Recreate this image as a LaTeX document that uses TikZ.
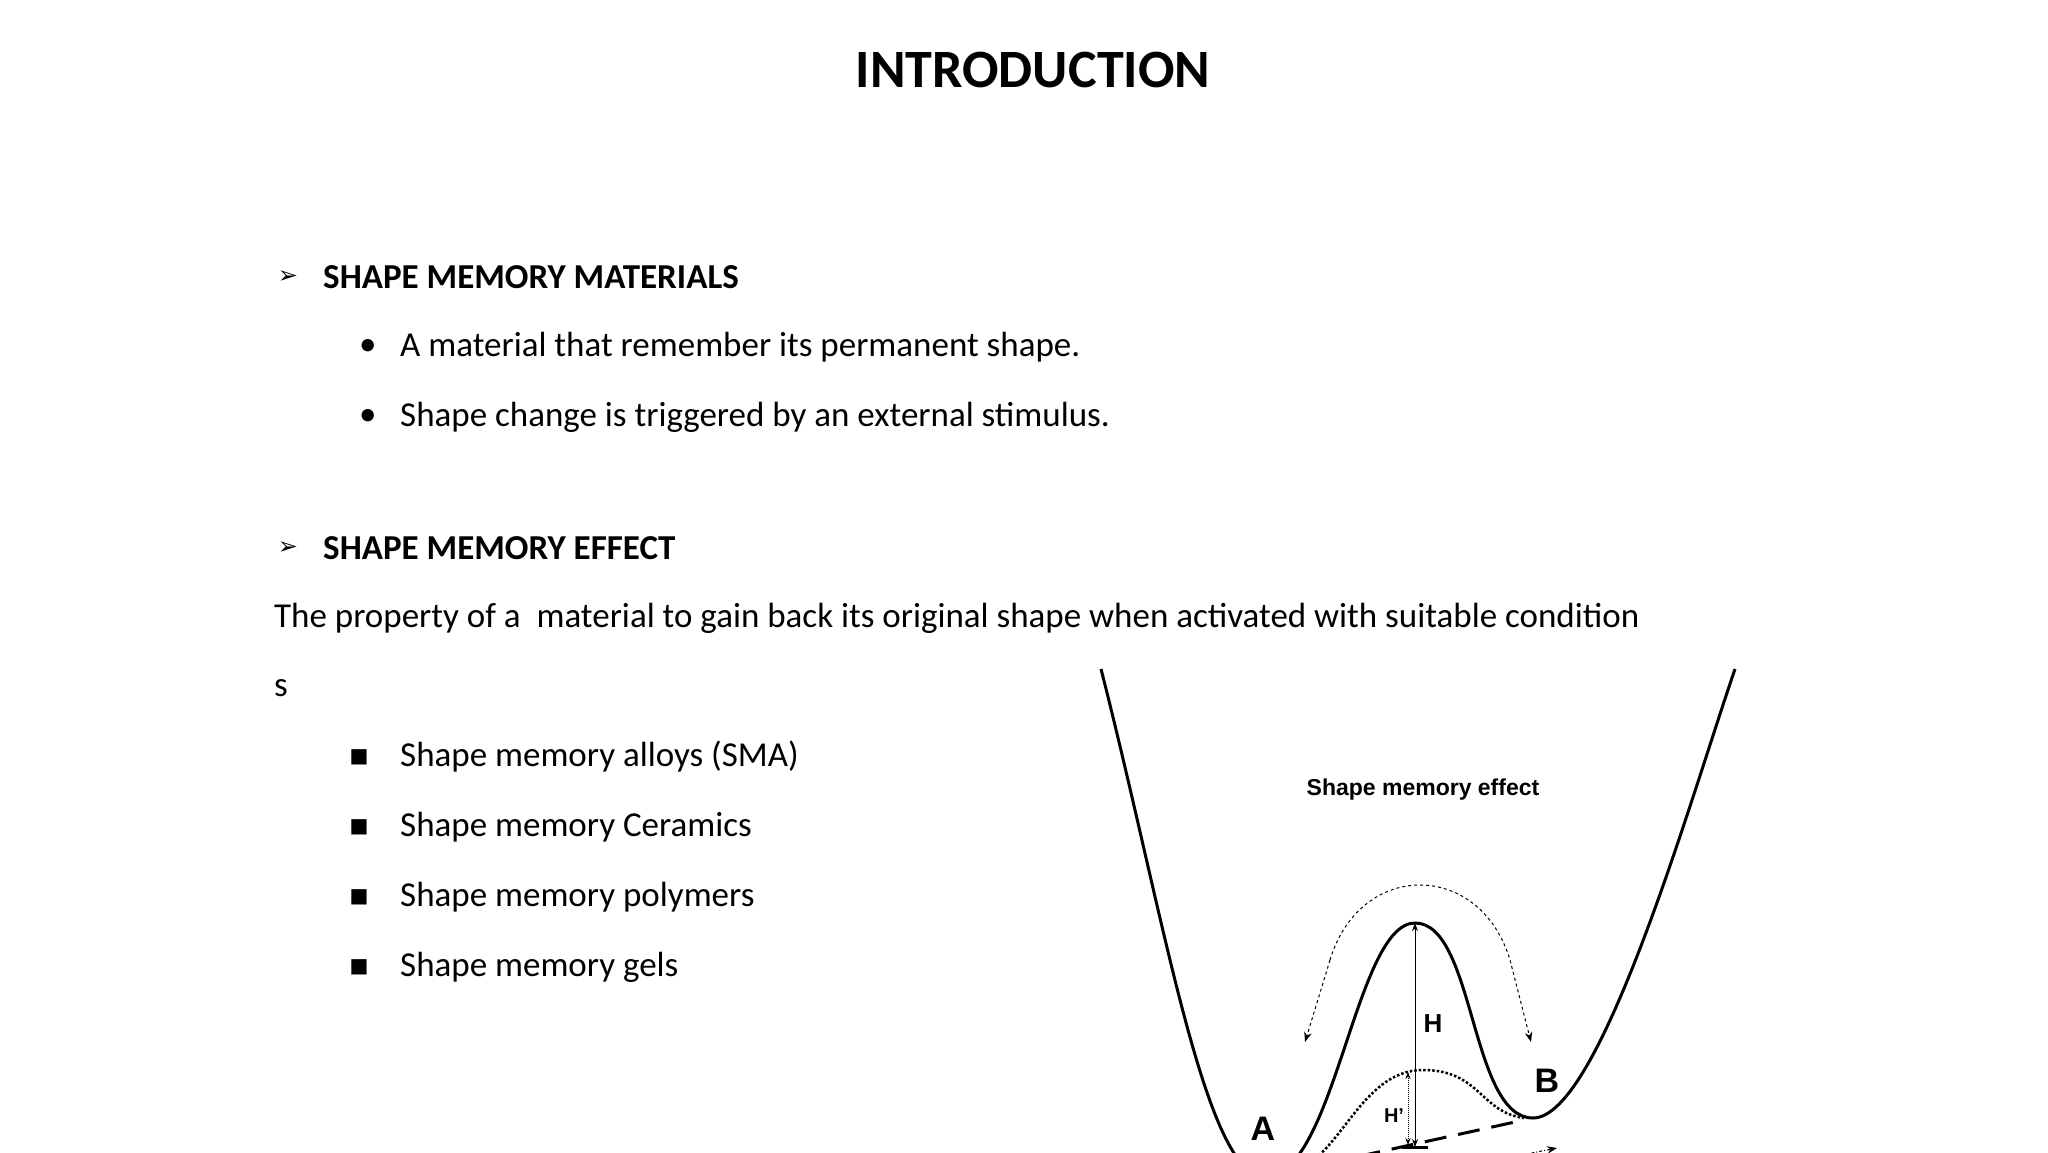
\documentclass[tikz,border=0pt]{standalone}
\usepackage{fontspec}
\setmainfont{Carlito}
\newfontfamily\symfont{DejaVu Sans}
\newfontfamily\arialfont{Liberation Sans}
\usetikzlibrary{arrows.meta}

\begin{document}
\begin{tikzpicture}[x=1pt,y=-1pt]
    \tikzstyle{every node}=[inner sep=0pt]
    \tikzstyle{heading}=[anchor=west, font=\fontsize{35}{40}\selectfont\bfseries]
    \tikzstyle{body}=[anchor=west, font=\fontsize{35}{40}\selectfont]
    \tikzstyle{bulletmark}=[anchor=center, font=\fontsize{24}{28}\symfont]
    \tikzstyle{label}=[font=\fontsize{23}{26}\arialfont\bfseries]
    \tikzstyle{curve}=[line width=3pt]

    \useasboundingbox (0,0) rectangle (2048,1152);

    % Title
    \node[font=\fontsize{54}{60}\selectfont\bfseries] (title) at (1033,70) {INTRODUCTION};

    % Shape memory materials
    \node[bulletmark] (m1) at (288,277) {➢};
    \node[heading] (h1) at (323,277) {SHAPE MEMORY MATERIALS};
    \node[body] (d1) at (359,347) {•};
    \node[body] (t1) at (400,347) {A material that remember its permanent shape.};
    \node[body] (d2) at (359,417) {•};
    \node[body] (t2) at (400,417) {Shape change is triggered by an external stimulus.};

    % Shape memory effect
    \node[bulletmark] (m2) at (288,548) {➢};
    \node[heading] (h2) at (323,548) {SHAPE MEMORY EFFECT};
    \node[body] (p1) at (274,618) {The property of a\ \ material to gain back its original shape when activated with suitable condition};
    \node[body] (p2) at (274,688) {s};

    % Kinds of materials
    \foreach \name/\y/\txt in {1/757/Shape memory alloys (SMA),2/827/Shape memory Ceramics,3/897/Shape memory polymers,4/967/Shape memory gels}
    {
        \node[bulletmark, font=\fontsize{20}{24}\symfont] (s\name) at (359,\y) {■};
        \node[body] (k\name) at (400,\y) {\txt};
    }

    % Energy landscape
    \coordinate (top-L) at (1101,669);
    \coordinate (A) at (1265,1177);
    \coordinate (peak) at (1415,923);
    \coordinate (B) at (1533,1118);
    \coordinate (top-R) at (1735,669);
    \draw[curve] (top-L) .. controls (1165,920) and (1205,1177) .. (A)
        .. controls (1335,1177) and (1355,923) .. (peak)
        .. controls (1475,923) and (1470,1118) .. (B)
        .. controls (1600,1118) and (1690,800) .. (top-R);

    % lowered barrier
    \coordinate (low) at (1423,1070);
    \draw[line width=2.5pt, dotted] (1292,1171) .. controls (1340,1160) and (1360,1070) .. (low)
        .. controls (1480,1070) and (1480,1112) .. (1524,1118);
    \coordinate (dashL) at (1292,1171);
    \coordinate (dashR) at (1524,1120);
    \draw[line width=3pt, dash pattern=on 22pt off 12pt] (dashL) -- (dashR);

    % barrier heights
    \coordinate (foot) at (1415,1147);
    \draw[{Stealth[length=8pt]}-{Stealth[length=8pt]}, line width=1pt] (peak) -- (foot);
    \draw[line width=3pt] (1402,1147) -- (1428,1147);
    \draw[{Stealth[length=7pt]}-{Stealth[length=7pt]}, line width=1pt, densely dotted] (1408,1072) -- (1408,1145);
    \node[label, font=\fontsize{26}{28}\arialfont\bfseries] (H) at (1433,1024) {H};
    \node[label, font=\fontsize{20}{24}\arialfont\bfseries] (Hp) at (1394,1116) {H’};
    \node[label, font=\fontsize{34}{36}\arialfont\bfseries] (lA) at (1263,1129) {A};
    \node[label, font=\fontsize{34}{36}\arialfont\bfseries] (lB) at (1547,1081) {B};

    % shape memory effect
    \coordinate (arcL) at (1305,1042);
    \coordinate (arcR) at (1531,1042);
    \draw[-{Stealth[length=10pt]}, line width=1pt, dashed] (1330,960) .. controls (1360,860) and (1480,860) .. (1510,960) -- (arcR);
    \draw[-{Stealth[length=10pt]}, line width=1pt, dashed] (1330,960) -- (arcL);
    \node[label] (sme) at (1423,790) {Shape memory effect};

    % shape change effect
    \coordinate (scL) at (1274,1204);
    \coordinate (scR) at (1557,1148);
    \draw[{Stealth[length=10pt]}-{Stealth[length=10pt]}, line width=1pt, dash dot] (scL) -- (scR);
    \node[label, rotate=11] (sce) at (1420,1222) {Shape change effect};
\end{tikzpicture}
\end{document}
